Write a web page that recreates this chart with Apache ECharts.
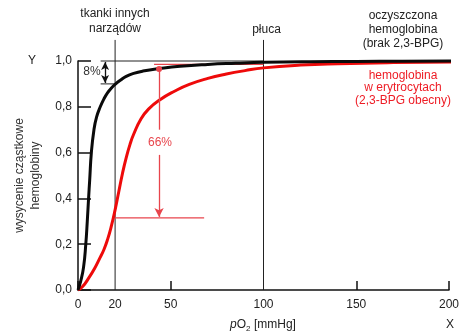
<!DOCTYPE html>
<html><head><meta charset="utf-8">
<script src="https://cdn.jsdelivr.net/npm/echarts@6/dist/echarts.min.js"></script>
<style>html,body{margin:0;padding:0;background:#fff}#c{width:474px;height:336px}</style>
</head><body><div id="c"></div>
<script>
const xTickValues = [0, 20, 50, 100, 150, 200];
const yTickValues = [0, 0.2, 0.4, 0.6, 0.8, 1.0];
// pure haemoglobin (no 2,3-BPG)
const blackCurve = [[0,0],[1.5,0.04],[3,0.1],[4.2,0.2],[5,0.3],[5.7,0.4],[6.3,0.48],[7.2,0.6],[8.6,0.7],[10,0.755],[12,0.8],[14,0.835],[16,0.862],[18,0.882],[20,0.898],[23,0.917],[26,0.933],[30,0.946],[35,0.956],[44,0.967],[55,0.977],[70,0.985],[85,0.99],[100,0.994],[125,0.997],[150,0.998],[175,0.999],[206,1.0]];
// haemoglobin in erythrocytes (2,3-BPG present)
const redCurve = [[0,0],[2.5,0.015],[6,0.055],[9,0.095],[11.5,0.135],[14,0.177],[16,0.222],[18,0.28],[20,0.35],[22,0.43],[24,0.51],[26,0.578],[28,0.635],[30,0.68],[34,0.748],[38,0.79],[44,0.83],[52,0.868],[60,0.898],[70,0.924],[80,0.943],[90,0.958],[100,0.97],[120,0.982],[140,0.988],[170,0.993],[206,0.996]];
const tissueX = 20, lungX = 100, lineTop = 1.092;
const dropX = 43.7, dropTop = 0.965, dropBottom = 0.315;
const arrow8X = 14.6, sat20 = 0.9;
const font = '"Liberation Sans", Arial, sans-serif';
const chart = echarts.init(document.getElementById('c'));
function seg(pts, color, w) {
  return {type:'line', data:pts, symbol:'none', clip:false, silent:true, z:1,
    lineStyle:{color:color, width:w}, animation:false};
}
const red2 = '#e8454c';
chart.setOption({
  animation:false,
  textStyle:{fontFamily:font},
  grid:{left:78, right:25, top:61, bottom:46, outerBoundsMode:'none', containLabel:false},
  xAxis:{type:'value', min:0, max:200,
    axisLine:{lineStyle:{color:'#111', width:1.5}},
    axisTick:{inside:true, length:9, customValues:[0,50,150,200], lineStyle:{color:'#111', width:1.5}},
    axisLabel:{customValues:xTickValues, color:'#222', fontSize:12, margin:9, fontFamily:font},
    splitLine:{show:false}},
  yAxis:{type:'value', min:0, max:1, interval:0.2,
    name:'wysycenie cząstkowe\nhemoglobiny', nameLocation:'middle', nameRotate:90, nameGap:34,
    nameTextStyle:{color:'#333', fontSize:12, lineHeight:16, fontFamily:font},
    axisLine:{show:true, lineStyle:{color:'#111', width:1.5}},
    axisTick:{show:true, inside:true, length:13, lineStyle:{color:'#111', width:1.5}},
    axisLabel:{color:'#222', fontSize:12, margin:6, fontFamily:font,
      formatter:v => v.toFixed(1).replace('.', ',')},
    splitLine:{show:false}},
  series:[
    seg([[tissueX,0],[tissueX,lineTop]], '#222', 1),
    seg([[lungX,0],[lungX,lineTop]], '#222', 1),
    seg([[12.2,1.0],[lungX,1.0]], '#222', 1),
    seg([[12.2,sat20],[tissueX+1,sat20]], '#222', 1),
    seg([[41,0.985],[lungX,0.985]], red2, 1.2),
    seg([[tissueX,dropBottom],[68,dropBottom]], red2, 1.2),
    {type:'line', name:'red', data:redCurve, symbol:'none', smooth:true, clip:false, z:3,
      lineStyle:{color:'#ee0a0a', width:3}},
    {type:'line', name:'black', data:blackCurve, symbol:'none', smooth:true, clip:false, z:4,
      lineStyle:{color:'#0a0a0a', width:3},
      markLine:{silent:true, animation:false, label:{show:false},
        data:[
          [{coord:[arrow8X,0.996], symbol:'arrow', symbolSize:[6,8], lineStyle:{color:'#111', width:1.3, type:'solid'}},
           {coord:[arrow8X,0.904], symbol:'arrow', symbolSize:[6,8]}],
          [{coord:[dropX,dropTop], symbol:'circle', symbolSize:6, itemStyle:{color:red2}, lineStyle:{color:red2, width:1.3, type:'solid'}},
           {coord:[dropX,0.7], symbol:'none'}],
          [{coord:[dropX,0.59], symbol:'none', lineStyle:{color:red2, width:1.3, type:'solid'}},
           {coord:[dropX,dropBottom+0.004], symbol:'arrow', symbolSize:[7,9], itemStyle:{color:red2}}]
        ]}}
  ],
  graphic:[
    {type:'text', x:115, y:21.5, style:{text:'tkanki innych\nnarządów', align:'center', verticalAlign:'middle', fontSize:12, lineHeight:15, fill:'#222', font:'12px '+font}},
    {type:'text', x:266.5, y:30, style:{text:'płuca', align:'center', verticalAlign:'middle', fill:'#222', font:'12px '+font}},
    {type:'text', x:403, y:29.5, style:{text:'oczyszczona\nhemoglobina\n(brak 2,3-BPG)', align:'center', verticalAlign:'middle', lineHeight:13.8, fill:'#222', font:'12px '+font}},
    {type:'text', x:403, y:88, style:{text:'hemoglobina\nw erytrocytach\n(2,3-BPG obecny)', align:'center', verticalAlign:'middle', lineHeight:12.6, fill:'#ee1c25', font:'12px '+font}},
    {type:'text', x:92, y:72, style:{text:'8%', align:'center', verticalAlign:'middle', fill:'#333', font:'12px '+font}},
    {type:'text', x:160, y:143, style:{text:'66%', align:'center', verticalAlign:'middle', fill:'#e8454c', font:'12px '+font}},
    {type:'text', x:32, y:61, style:{text:'Y', align:'center', verticalAlign:'middle', fill:'#222', font:'12px '+font}},
    {type:'text', x:450, y:325, style:{text:'X', align:'center', verticalAlign:'middle', fill:'#222', font:'12px '+font}},
    {type:'text', x:263, y:325, style:{text:'{i|p}{n|O}{s|2}{n| [mmHg]}', align:'center', verticalAlign:'middle',
      rich:{i:{fontStyle:'italic', fontSize:12, fontFamily:font, fill:'#222'}, n:{fontSize:12, fontFamily:font, fill:'#222'},
            s:{fontSize:8, fontFamily:font, fill:'#222', padding:[7,0,0,0]}}}}
  ]
});
</script></body></html>
